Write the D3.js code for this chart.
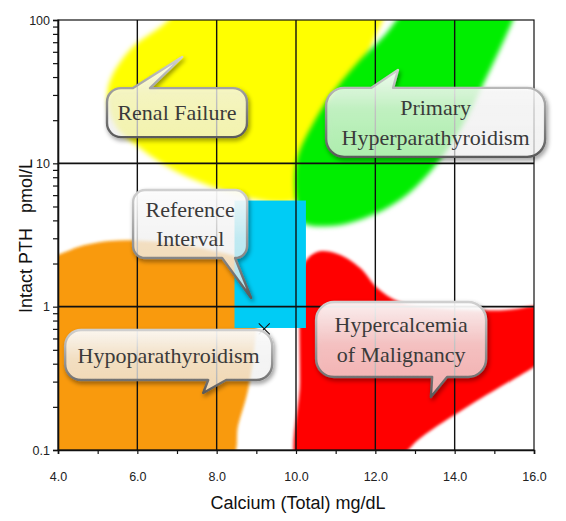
<!DOCTYPE html>
<html lang="en">

<head>
    <meta charset="UTF-8">
    <script src="https://cdn.jsdelivr.net/npm/d3@7"></script>
    <style>
        * {
            margin: 0;
            padding: 0;
        }

        body {
            background: #ffffff;
        }

        .tick text {
            font-family: "Liberation Sans Narrow", "Liberation Sans", Arial, sans-serif;
            font-size: 12.5px;
            fill: #222222;
        }

        .bubble text {
            font-family: "Liberation Serif", serif;
            font-size: 22px;
            fill: #3a3a3a;
        }
    </style>
    <title>PTH vs Calcium</title>
</head>

<body>
    <script>

        const width = 566;
        const height = 521;
        const plot = { left: 58, right: 534, top: 20, bottom: 450 };

        // axes
        const calciumDomain = [4, 16];
        const pthDomain = [0.1, 100];
        const calciumTicks = [4, 5, 6, 7, 8, 9, 10, 11, 12, 13, 14, 15, 16];
        const calciumGrid = [6, 8, 10, 12, 14];
        const pthTickLabels = ["0.1", "1", "10", "100"];
        const pthGrid = [1, 10];

        // region outlines, [calcium mg/dL, PTH pmol/L]
        const renalFailure = [[7.6, 149], [6.6, 90], [5.81, 61.8], [5.26, 33.5], [5.44, 18.5], [6.07, 12.8], [6.82, 9.28],
            [7.58, 7.41], [8.59, 5.92], [9.85, 5.37], [10.6, 7.06], [11.23, 20.1], [11.86, 61.8], [12.24, 149]];
        const primaryHyper = [[12.62, 108], [12.24, 78.6], [11.61, 52.6], [10.98, 32.5], [10.48, 20.1], [10.02, 10.5],
            [10.0, 5.55], [10.15, 3.9], [10.86, 3.65], [11.74, 4.16], [12.62, 5.55], [13.38, 8.7], [14.13, 17.1],
            [14.89, 44.8], [15.47, 100], [15.77, 162], [13.13, 162]];
        const hypoPara = [[3.55, 1.8], [4.3, 2.48], [5.31, 2.87], [6.57, 2.83], [7.83, 2.48], [8.71, 2.05],
            [9.04, 1.11], [8.97, 0.585], [8.79, 0.262], [8.54, 0.149], [8.34, 0.085], [3.55, 0.073]];
        const hyperMalignancy = [[10.1, 0.073], [10.1, 0.3], [10.1, 1.11], [10.2, 1.98], [10.53, 2.41], [11.05, 2.33],
            [11.62, 1.86], [12.05, 1.35], [12.6, 1.08], [13.63, 0.97], [15.14, 0.94], [16.65, 0.98], [16.65, 0.5],
            [16.0, 0.38], [14.39, 0.206], [13.13, 0.121], [12.37, 0.08]];
        const refCalcium = [8.45, 10.25];
        const refPth = [0.71, 5.5];
        const patientPoint = [9.2, 0.70];

        const regions = [
            { name: "renal", points: renalFailure, color: "#ffff00", blur: 2.8 },
            { name: "primary", points: primaryHyper, color: "#00ee00", blur: 2.8 },
            { name: "hypo", points: hypoPara, color: "#f99a08", blur: 1.8 },
            { name: "malignancy", points: hyperMalignancy, color: "#ff0000", blur: 1.6 },
        ];

        // labels: center and tail tip in data units, box size in px
        const bubbles = [
            { lines: ["Renal Failure"], center: [7.0, 22.6], w: 140, h: 49, r: 14, side: "top", base: [26, 43], tip: [7.13, 55.2] },
            { lines: ["Primary", "Hyperparathyroidism"], center: [13.52, 19.3], w: 219, h: 69, r: 18, side: "top", base: [45, 67], tip: [12.57, 44.8] },
            { lines: ["Reference", "Interval"], center: [7.33, 3.77], w: 114, h: 68, r: 12, side: "bottom", base: [89, 102], tip: [8.87, 1.15] },
            { lines: ["Hypoparathyroidism"], center: [6.79, 0.46], w: 207, h: 50, r: 16, side: "bottom", base: [143, 161], tip: [7.66, 0.25] },
            { lines: ["Hypercalcemia", "of Malignancy"], center: [12.65, 0.59], w: 170, h: 75, r: 18, side: "bottom", base: [116, 131], tip: [13.4, 0.234] },
        ];

        const xScale = d3.scaleLinear().domain(calciumDomain).range([plot.left, plot.right]);
        const yScale = d3.scaleLog().domain(pthDomain).range([plot.bottom, plot.top]);

        let svg = createSvg();
        createDefs();
        drawRegions();
        drawGrid();
        drawAxes();
        drawMarker();
        drawBubbles();

        function createSvg() {
            return d3.select("body")
                .append("svg")
                .attr("width", width)
                .attr("height", height)
        }

        function createDefs() {
            let defs = svg.append("defs");
            defs.append("clipPath").attr("id", "plotClip")
                .append("rect")
                .attr("x", plot.left).attr("y", plot.top)
                .attr("width", plot.right - plot.left).attr("height", plot.bottom - plot.top);
            regions.forEach(r => {
                defs.append("filter").attr("id", "soft-" + r.name)
                    .attr("x", "-10%").attr("y", "-10%").attr("width", "120%").attr("height", "120%")
                    .append("feGaussianBlur").attr("stdDeviation", r.blur);
            });
            let shadow = defs.append("filter").attr("id", "shadow")
                .attr("x", "-20%").attr("y", "-20%").attr("width", "140%").attr("height", "150%");
            shadow.append("feDropShadow")
                .attr("dx", 1.5).attr("dy", 2.5).attr("stdDeviation", 2)
                .attr("flood-color", "#000").attr("flood-opacity", 0.45);
            let fill = defs.append("linearGradient").attr("id", "bubbleFill")
                .attr("x1", 0).attr("y1", 0).attr("x2", 0).attr("y2", 1);
            fill.append("stop").attr("offset", "0%").attr("stop-color", "#fff").attr("stop-opacity", 0.92);
            fill.append("stop").attr("offset", "45%").attr("stop-color", "#fff").attr("stop-opacity", 0.7);
            fill.append("stop").attr("offset", "100%").attr("stop-color", "#fff").attr("stop-opacity", 0.62);
            let edge = defs.append("linearGradient").attr("id", "bubbleEdge")
                .attr("x1", 0).attr("y1", 0).attr("x2", 0).attr("y2", 1);
            edge.append("stop").attr("offset", "0%").attr("stop-color", "#d0d0d0");
            edge.append("stop").attr("offset", "100%").attr("stop-color", "#5a5a5a");
        }

        function drawRegions() {
            let line = d3.line()
                .x(d => xScale(d[0]))
                .y(d => yScale(d[1]))
                .curve(d3.curveCatmullRomClosed.alpha(0.5));
            let g = svg.append("g").attr("clip-path", "url(#plotClip)");
            g.selectAll("path.region")
                .data(regions)
                .enter()
                .append("path")
                .classed("region", true)
                .attr("d", d => line(d.points))
                .attr("fill", d => d.color)
                .attr("filter", d => `url(#soft-${d.name})`);
            g.append("rect")
                .attr("x", xScale(refCalcium[0]))
                .attr("y", yScale(refPth[1]))
                .attr("width", xScale(refCalcium[1]) - xScale(refCalcium[0]))
                .attr("height", yScale(refPth[0]) - yScale(refPth[1]))
                .attr("fill", "#00ccf5");
        }

        function drawGrid() {
            let g = svg.append("g").attr("stroke", "#111").attr("stroke-width", 1.4);
            g.selectAll("line.vgrid").data(calciumGrid).enter()
                .append("line").classed("vgrid", true)
                .attr("x1", d => xScale(d)).attr("x2", d => xScale(d))
                .attr("y1", plot.top).attr("y2", plot.bottom);
            g.selectAll("line.hgrid").data(pthGrid).enter()
                .append("line").classed("hgrid", true)
                .attr("x1", plot.left).attr("x2", plot.right)
                .attr("y1", d => yScale(d)).attr("y2", d => yScale(d))
                .attr("stroke-width", 1.8);
            svg.append("rect")
                .attr("x", plot.left).attr("y", plot.top)
                .attr("width", plot.right - plot.left).attr("height", plot.bottom - plot.top)
                .attr("fill", "none").attr("stroke", "#111").attr("stroke-width", 1.2);
        }

        function drawAxes() {
            let xAxis = d3.axisBottom(xScale)
                .tickValues(calciumTicks)
                .tickSize(4)
                .tickFormat(d => d % 2 === 0 ? d3.format(".1f")(d) : "");
            let gx = svg.append("g")
                .attr("transform", `translate(0,${plot.bottom})`)
                .call(xAxis);
            gx.select(".domain").attr("stroke", "#111").attr("stroke-width", 1.6);
            gx.selectAll(".tick line").attr("stroke", "#111").attr("stroke-width", 1.2);
            gx.selectAll(".tick text").attr("y", 31).attr("dy", 0);

            let minor = [];
            d3.range(-1, 2).forEach(e => d3.range(1, 10).forEach(m => minor.push(m * Math.pow(10, e))));
            minor.push(100);
            let yAxis = d3.axisLeft(yScale)
                .tickValues(minor)
                .tickSize(5)
                .tickPadding(3)
                .tickFormat(d => pthTickLabels.includes(String(+d.toPrecision(3))) ? String(+d.toPrecision(3)) : "");
            let gy = svg.append("g")
                .attr("transform", `translate(${plot.left},0)`)
                .call(yAxis);
            gy.select(".domain").attr("stroke", "#111").attr("stroke-width", 1.6);
            gy.selectAll(".tick line").attr("stroke", "#111").attr("stroke-width", 1.2);

            svg.append("text")
                .attr("x", 298).attr("y", 509)
                .attr("text-anchor", "middle")
                .attr("font-family", "Liberation Sans, Arial, sans-serif")
                .attr("font-size", 18)
                .attr("fill", "#111")
                .text("Calcium (Total) mg/dL");
            svg.append("text")
                .attr("transform", "translate(32,236) rotate(-90)")
                .attr("text-anchor", "middle")
                .attr("font-family", "Liberation Sans, Arial, sans-serif")
                .attr("font-size", 18)
                .attr("fill", "#111")
                .style("white-space", "pre")
                .text("Intact PTH   pmol/L");
        }

        function drawMarker() {
            let cx = xScale(patientPoint[0]), cy = yScale(patientPoint[1]);
            let s = 5.5;
            svg.append("path")
                .attr("d", `M${cx - s},${cy - s}L${cx + s},${cy + s}M${cx + s},${cy - s}L${cx - s},${cy + s}`)
                .attr("stroke", "#111").attr("stroke-width", 1.1);
        }

        function bubblePath(b) {
            let cx = xScale(b.center[0]), cy = yScale(b.center[1]);
            let x0 = cx - b.w / 2, x1 = cx + b.w / 2, y0 = cy - b.h / 2, y1 = cy + b.h / 2;
            let r = b.r;
            let tx = xScale(b.tip[0]), ty = yScale(b.tip[1]);
            let p = d3.path();
            p.moveTo(x0 + r, y0);
            if (b.side === "top") {
                p.lineTo(x0 + b.base[0], y0);
                p.lineTo(tx, ty);
                p.lineTo(x0 + b.base[1], y0);
            }
            p.lineTo(x1 - r, y0);
            p.arcTo(x1, y0, x1, y0 + r, r);
            p.lineTo(x1, y1 - r);
            p.arcTo(x1, y1, x1 - r, y1, r);
            if (b.side === "bottom") {
                p.lineTo(x0 + b.base[1], y1);
                p.lineTo(tx, ty);
                p.lineTo(x0 + b.base[0], y1);
            }
            p.lineTo(x0 + r, y1);
            p.arcTo(x0, y1, x0, y1 - r, r);
            p.lineTo(x0, y0 + r);
            p.arcTo(x0, y0, x0 + r, y0, r);
            p.closePath();
            return p.toString();
        }

        function drawBubbles() {
            let items = svg.selectAll("g.bubble")
                .data(bubbles)
                .enter()
                .append("g")
                .classed("bubble", true);
            items.append("path")
                .attr("d", d => bubblePath(d))
                .attr("fill", "url(#bubbleFill)")
                .attr("stroke", "url(#bubbleEdge)")
                .attr("stroke-width", 2.4)
                .attr("stroke-linejoin", "round")
                .attr("filter", "url(#shadow)");
            items.each(function (d) {
                let cx = xScale(d.center[0]), cy = yScale(d.center[1]);
                let n = d.lines.length;
                d3.select(this).selectAll("text")
                    .data(d.lines)
                    .enter()
                    .append("text")
                    .attr("x", cx)
                    .attr("y", (t, i) => cy + 7.5 + (i - (n - 1) / 2) * 29.5)
                    .attr("text-anchor", "middle")
                    .text(t => t);
            });
        }

    </script>
</body>

</html>
